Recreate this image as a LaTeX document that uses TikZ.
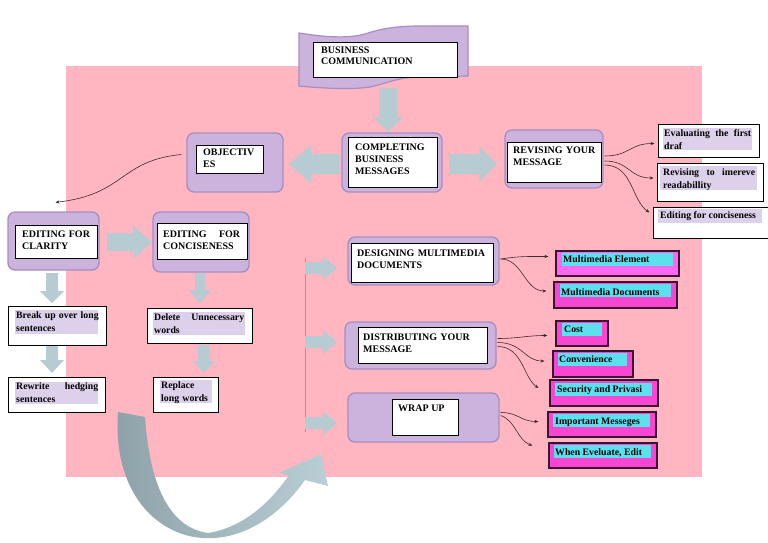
\documentclass[tikz,border=0pt]{standalone}
\usepackage{fontspec}
\setmainfont{Liberation Serif}
\usetikzlibrary{arrows.meta,calc}

\definecolor{bgpink}{HTML}{FFB6C1}
\definecolor{boxpurple}{HTML}{CCB3DD}
\definecolor{boxpurpleline}{HTML}{A68DC2}
\definecolor{blockarrow}{HTML}{B6CCD2}
\definecolor{lav}{HTML}{DCD0EA}
\definecolor{cyanhl}{HTML}{5CE0EE}
\definecolor{mag1}{HTML}{FF66F2}
\definecolor{mag2}{HTML}{F845D2}
\definecolor{magline}{HTML}{3A1232}
\definecolor{connc}{HTML}{3F2A2A}
\definecolor{vlinec}{HTML}{8FA0A6}
\definecolor{bigdark}{HTML}{8DA1A8}
\definecolor{biglight}{HTML}{B8CFD5}

% box node by corners: name, style, x1, y1, x2, y2
\newcommand\bx[6]{\node[#2, minimum width={(#5-#3)*1pt}, minimum height={(#6-#4)*1pt}, inner sep=0pt] (#1) at ({(#3+#5)/2},{(#4+#6)/2}) {};}
% horizontal block arrow: tail x, tip x, centre y, shaft half, head half, head length (signed)
\newcommand\harrow[6]{\fill[blockarr] (#1,{#3-#4}) -- ({#2-#6},{#3-#4}) -- ({#2-#6},{#3-#5}) -- (#2,#3) -- ({#2-#6},{#3+#5}) -- ({#2-#6},{#3+#4}) -- (#1,{#3+#4}) -- cycle;}
% vertical block arrow: centre x, tail y, tip y, shaft half, head half, head length
\newcommand\varrow[6]{\fill[blockarr] ({#1-#4},#2) -- ({#1-#4},{#3-#6}) -- ({#1-#5},{#3-#6}) -- (#1,#3) -- ({#1+#5},{#3-#6}) -- ({#1+#4},{#3-#6}) -- ({#1+#4},#2) -- cycle;}

\tikzset{
  pbox/.style={rectangle, rounded corners=7pt, fill=boxpurple, draw=boxpurpleline, line width=1.3pt},
  wbox/.style={rectangle, fill=white, draw=black, line width=0.9pt},
  hl/.style={rectangle, fill=lav},
  chl/.style={rectangle, fill=cyanhl},
  mbox/.style={rectangle, fill=mag2, draw=magline, line width=1.1pt},
  mboxa/.style={mbox, fill=mag1},
  conn/.style={draw=connc, line width=0.6pt, -{Stealth[length=4pt,width=3.2pt]}},
  blockarr/.style={fill=blockarrow},
  capt/.style={font=\fontsize{10}{12}\selectfont\bfseries, inner sep=0pt, align=left, anchor=base west},
  leaft/.style={font=\fontsize{9.8}{12.5}\selectfont\bfseries, inner sep=0pt, align=left, anchor=base west},
}

\begin{document}
\begin{tikzpicture}[x=1pt,y=-1pt]
\useasboundingbox (0,0) rectangle (768,543);

% background
\bx{bg}{fill=bgpink}{66}{66}{702}{477}

% banner
\path[fill=boxpurple, draw=boxpurpleline, line width=1.2pt]
  (299,33) .. controls (330,38) and (350,38) .. (365,34)
  .. controls (380,29) and (395,26) .. (420,26) -- (468,26) -- (468,76) -- (420,77)
  .. controls (398,77) and (385,84) .. (370,87)
  .. controls (350,90) and (320,88) .. (299,86) -- cycle;
\bx{bci}{wbox}{313}{42}{457}{77}
\node[capt, text width=130pt] (tbc) at (321,53) {BUSINESS\\COMMUNICATION};

% block arrows
\varrow{388}{88}{132}{9}{15}{15}
\harrow{340}{289}{164}{10}{19}{-22}
\harrow{449}{497}{164}{10}{18}{18}
\harrow{107}{152}{242}{9}{17}{19}
\varrow{52}{273}{303}{6}{12}{12}
\varrow{52}{345}{373}{6}{12}{13}
\varrow{200}{273}{303}{5}{11}{13}
\varrow{204}{345}{373}{6}{11}{12}

% vertical bracket line with arrows
\coordinate (vtop) at (305,258);
\coordinate (vbot) at (305,432);
\draw[vlinec, line width=1pt] (vtop) -- (vbot);
\harrow{305}{337}{268}{6}{12}{14}
\harrow{305}{337}{342}{6}{12}{14}
\harrow{305}{337}{423}{6}{12}{14}

% main purple boxes
\bx{comp}{pbox}{342}{133}{442}{192}
\bx{compi}{wbox}{348}{137}{437}{187}
\node[capt, text width=80pt] (tcomp) at (355,150) {COMPLETING\\BUSINESS\\MESSAGES};

\bx{obj}{pbox}{187}{133}{283}{192}
\bx{obji}{wbox}{196}{145}{263}{173}
\node[capt, text width=60pt] (tobj) at (203,155) {OBJECTIV\\ES};

\bx{rev}{pbox}{505}{130}{603}{188}
\bx{revi}{wbox}{507}{142}{601}{182}
\node[capt, text width=88pt] (trev) at (513,153.5) {REVISING YOUR\\MESSAGE};

\bx{clar}{pbox}{8}{212}{99}{270}
\bx{clari}{wbox}{15}{225}{97}{258}
\node[capt, text width=72pt] (tclar) at (22,237) {EDITING FOR\\CLARITY};

\bx{conc}{pbox}{153}{212}{249}{272}
\bx{conci}{wbox}{157}{223}{247}{259}
\node[capt, text width=77pt] (tconc) at (163,237) {EDITING\hfill FOR\\CONCISENESS};

\bx{des}{pbox}{348}{237}{499}{285}
\bx{desi}{wbox}{351}{243}{493}{282}
\node[capt, text width=135pt] (tdes) at (357,256.5) {DESIGNING MULTIMEDIA\\DOCUMENTS};

\bx{dis}{pbox}{345}{322}{496}{369}
\bx{disi}{wbox}{358}{327}{487}{363}
\node[capt, text width=120pt] (tdis) at (363,340.5) {DISTRIBUTING YOUR\\MESSAGE};

\bx{wrap}{pbox}{348}{393}{499}{442}
\bx{wrapi}{wbox}{392}{399}{458}{435}
\node[capt] (twrap) at (398,411) {WRAP UP};

% leaf boxes (right of revising)
\bx{evb}{wbox}{658}{124}{759}{157}
\bx{evh}{hl}{663}{128}{752}{150}
\node[leaft, text width=87pt] (tev) at (664,136.5) {Evaluating\hfill the\hfill first\\draf};
\bx{r2b}{wbox}{657}{163}{763}{201}
\bx{r2h}{hl}{660}{166}{757}{190}
\node[leaft, text width=92pt] (tr2) at (663,175.5) {Revising\hfill to\hfill imereve\\readabillity};
\bx{ecb}{wbox}{653}{207}{769}{238}
\bx{ech}{hl}{658}{209}{762}{223}
\node[leaft] (tec) at (660,218.5) {Editing for conciseness};

% leaf boxes (left columns)
\bx{brb}{wbox}{8}{306}{106}{345}
\bx{brh}{hl}{15}{310}{98}{334}
\node[leaft, text width=82.5pt] (tbr) at (16,318.5) {Break\hfill up\hfill over\hfill long\\sentences};
\bx{rwb}{wbox}{8}{377}{105}{412}
\bx{rwh}{hl}{15}{382}{98}{404}
\node[leaft, text width=82pt] (trw) at (16,389.5) {Rewrite\hfill hedging\\sentences};
\bx{deb}{wbox}{147}{308}{252}{343}
\bx{deh}{hl}{153}{312}{245}{335}
\node[leaft, text width=90pt] (tde) at (154,320.5) {Delete\hfill Unnecessary\\words};
\bx{reb}{wbox}{153}{377}{218}{412}
\bx{reh}{hl}{160}{380}{212}{403}
\node[leaft, text width=51pt] (tre) at (161,388.5) {Replace\\long words};

% magenta boxes
\bx{mme}{mboxa}{556}{251}{679}{276}
\bx{mmeh}{chl}{562}{253}{673}{266}
\node[leaft] (tmme) at (563,262.5) {Multimedia Element};
\bx{mmd}{mbox}{554}{282}{677}{308}
\bx{mmdh}{chl}{560}{284}{671}{297}
\node[leaft] (tmmd) at (561,295) {Multimedia Documents};
\bx{cost}{mbox}{556}{321}{608}{346}
\bx{costh}{chl}{562}{323}{602}{336}
\node[leaft] (tcost) at (564,332.5) {Cost};
\bx{conv}{mbox}{553}{351}{633}{377}
\bx{convh}{chl}{558}{353}{627}{366}
\node[leaft] (tconv) at (559,362.5) {Convenience};
\bx{sec}{mbox}{550}{380}{658}{406}
\bx{sech}{chl}{555}{383}{652}{396}
\node[leaft] (tsec) at (557,392.5) {Security and Privasi};
\bx{imp}{mbox}{548}{412}{656}{437}
\bx{imph}{chl}{553}{414}{650}{427}
\node[leaft] (timp) at (555,424.5) {Important Messeges};
\bx{when}{mbox}{549}{443}{657}{468}
\bx{whenh}{chl}{554}{445}{651}{458}
\node[leaft] (twhen) at (555,455.5) {When Eveluate, Edit};

% thin curved connectors
\draw[conn] ($(obj.west)+(-5,-8)$) .. controls +(-62,6) and +(70,-8) .. ($(clar.north)+(2,-9)$);
\draw[conn] ($(rev.east)+(1,-3)$) .. controls +(25,0) and +(-25,0) .. ($(evb.west)+(-3,3)$);
\draw[conn] ($(rev.east)+(1,2)$) .. controls +(25,0) and +(-25,0) .. ($(r2b.west)+(-3,-4)$);
\draw[conn] ($(rev.east)+(1,6)$) .. controls +(28,0) and +(-18,-12) .. ($(ecb.west)+(-3,-10)$);
\draw[conn] ($(des.east)+(1,-2)$) .. controls +(20,-3) and +(-20,0) .. ($(mme.west)+(-7,-7)$);
\draw[conn] ($(des.east)+(1,-2)$) .. controls +(22,0) and +(-22,0) .. ($(mmd.west)+(-7,-4)$);
\draw[conn] ($(dis.east)+(1,-7)$) .. controls +(20,0) and +(-20,0) .. ($(cost.west)+(-8,2)$);
\draw[conn] ($(dis.east)+(1,-3)$) .. controls +(25,0) and +(-20,0) .. ($(conv.west)+(-8,-3)$);
\draw[conn] ($(dis.east)+(1,1)$) .. controls +(25,0) and +(-15,-10) .. ($(sec.west)+(-11,-5)$);
\draw[conn] ($(wrap.east)+(1,-5)$) .. controls +(18,0) and +(-18,0) .. ($(imp.west)+(-9,-3)$);
\draw[conn] ($(wrap.east)+(1,-2)$) .. controls +(15,5) and +(-15,-5) .. ($(when.west)+(-16,-10)$);

% big curved arrow
\shade[left color=bigdark, right color=biglight]
  (118,412) .. controls (112,500) and (165,542) .. (215,538)
  .. controls (255,535) and (287,506) .. (305,480)
  -- (328,486) -- (321,454) -- (279,473) -- (289,475)
  .. controls (268,506) and (240,528) .. (208,533)
  .. controls (172,528) and (150,490) .. (145,417) -- cycle;
\end{tikzpicture}
\end{document}
